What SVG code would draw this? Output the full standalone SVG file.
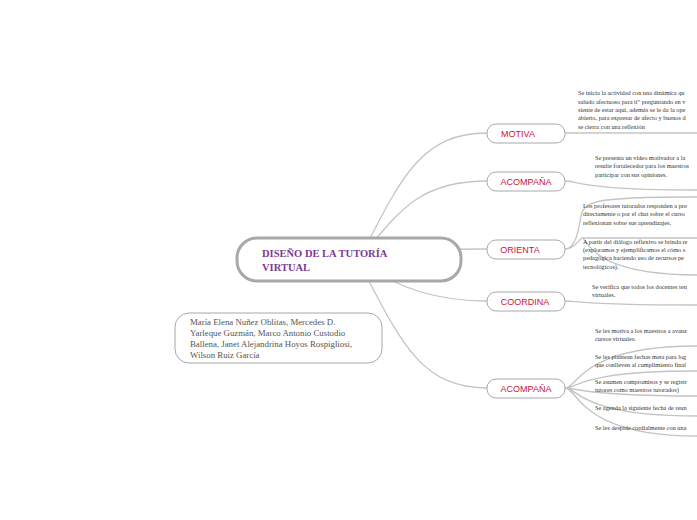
<svg xmlns="http://www.w3.org/2000/svg" width="697" height="520" viewBox="0 0 697 520">
<style>
.c{fill:none;stroke:#c4c4c4;stroke-width:1.3}
.n{fill:#fff;stroke:#a8a8a8;stroke-width:1}
.l{font-family:"Liberation Sans",sans-serif;font-size:9px;fill:#d0103a;text-anchor:middle}
.t{font-family:"Liberation Serif",serif;font-size:6.3px;fill:#333}
</style>
<rect width="697" height="520" fill="#fff"/>
<g id="connectors">
<path class="c" d="M360 258 C400 180 420 133 487 133"/>
<path class="c" d="M360 258 C400 210 420 181 487 181"/>
<path class="c" d="M360 260 C400 250 440 249 487 249"/>
<path class="c" d="M360 262 C400 290 440 301 487 301"/>
<path class="c" d="M360 264 C400 340 420 388 487 388"/>
<path class="c" d="M565 133 C575 133 575 133 580 133 L697 133"/>
<path class="c" d="M565 181 C578 181 580 190 697 190"/>
<path class="c" d="M565 249 C575 249 578 240 582 238 L697 238 M565 249 C575 249 578 232 580 222 C582 200 590 197 697 197 M582 238 C588 238 588 275 697 275"/>
<path class="c" d="M565 301 C578 301 580 305 697 305"/>
<path class="c" d="M565 388 C578 388 580 346 697 346 M565 388 C578 388 580 371 697 371 M565 388 C578 388 580 396 697 396 M565 388 C578 388 580 416 697 416 M565 388 C578 388 580 436 697 436"/>
</g>
<g id="center"><rect x="237" y="238" width="224" height="43" rx="20" fill="#fff" stroke="#a8a8a8" stroke-width="3"/>
<text font-family="Liberation Serif,serif" font-size="10.5" font-weight="bold" fill="#7a3a96"><tspan x="262" y="257">DISEÑO DE LA TUTORÍA</tspan><tspan x="262" y="271">VIRTUAL</tspan></text></g>
<g id="authors"><rect x="175" y="313" width="207" height="50" rx="14" class="n"/>
<text font-family="Liberation Serif,serif" font-size="8.8" fill="#555"><tspan x="190" y="325">María Elena Nuñez Oblitas, Mercedes D.</tspan><tspan x="190" y="336">Yarleque Guzmán, Marco Antonio Custodio</tspan><tspan x="190" y="347">Ballena, Janet Alejandrina Hoyos Rospigliosi,</tspan><tspan x="190" y="358">Wilson Ruiz García</tspan></text></g>
<g id="n1"><rect x="487" y="124" width="78" height="19" rx="9" class="n"/><text class="l" x="518" y="137">MOTIVA</text></g>
<g id="n2"><rect x="487" y="172" width="78" height="19" rx="9" class="n"/><text class="l" x="526" y="185">ACOMPAÑA</text></g>
<g id="n3"><rect x="487" y="240" width="78" height="19" rx="9" class="n"/><text class="l" x="520" y="253">ORIENTA</text></g>
<g id="n4"><rect x="487" y="292" width="78" height="19" rx="9" class="n"/><text class="l" x="525" y="305">COORDINA</text></g>
<g id="n5"><rect x="487" y="379" width="78" height="19" rx="9" class="n"/><text class="l" x="526" y="392">ACOMPAÑA</text></g>
<g id="leaves">
<text class="t"><tspan x="578" y="95">Se inicia la actividad con una dinámica qu</tspan><tspan x="578" y="104">saludo afectuoso para ti" preguntando en v</tspan><tspan x="578" y="112">siente de estar aquí, además se le da la ope</tspan><tspan x="578" y="120">abierto, para expresar de afecto y buenos d</tspan><tspan x="578" y="129">se cierra con una reflexión</tspan></text>
<text class="t"><tspan x="595" y="160">Se presenta un video motivador a la</tspan><tspan x="595" y="168">resulte fortalecedor para los maestros</tspan><tspan x="595" y="177">participar con sus opiniones.</tspan></text>
<text class="t"><tspan x="583" y="208">Los profesores tutorados responden a pre</tspan><tspan x="583" y="216">directamente o por el chat sobre el curso</tspan><tspan x="583" y="225">reflexionan sobre sus aprendizajes.</tspan></text>
<text class="t"><tspan x="583" y="244">A partir del diálogo reflexivo se brinda re</tspan><tspan x="583" y="252">(exploramos y ejemplificamos el cómo s</tspan><tspan x="583" y="260">pedagógica haciendo uso de recursos pe</tspan><tspan x="583" y="269">tecnológicos).</tspan></text>
<text class="t"><tspan x="592" y="289">Se verifica que todos los docentes ten</tspan><tspan x="592" y="297">virtuales.</tspan></text>
<text class="t"><tspan x="595" y="333">Se les motiva a los maestros a avanz</tspan><tspan x="595" y="341">cursos virtuales.</tspan></text>
<text class="t"><tspan x="595" y="359">Se les plantean fechas meta para log</tspan><tspan x="595" y="367">que conlleven al cumplimiento final</tspan></text>
<text class="t"><tspan x="595" y="384">Se asumen compromisos y se registr</tspan><tspan x="595" y="392">tutores como maestros tutorados)</tspan></text>
<text class="t" x="595" y="410">Se agenda la siguiente fecha de reun</text>
<text class="t" x="595" y="430">Se les despide cordialmente con una</text>
</g>
</svg>
